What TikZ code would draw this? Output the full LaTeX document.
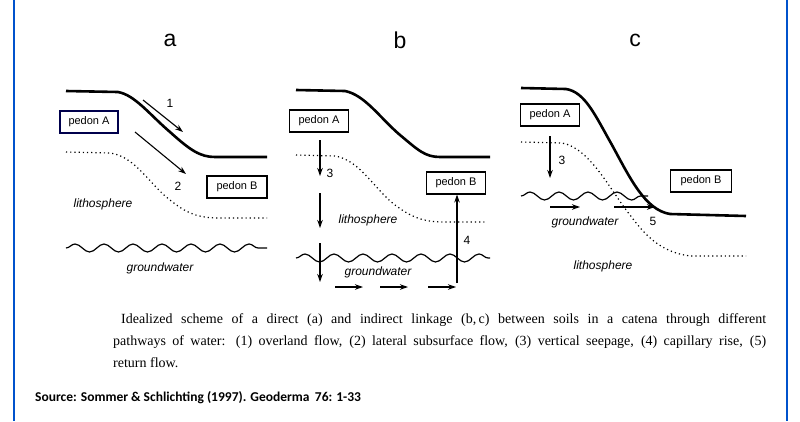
\documentclass[tikz,border=0pt]{standalone}
\usepackage{fontspec}
\setmainfont{Liberation Serif}
\setsansfont{Liberation Sans}
\newfontfamily\carl{Carlito}
\usetikzlibrary{decorations.pathmorphing,arrows.meta}
\begin{document}
\begin{tikzpicture}[x=1pt,y=-1pt,
  box/.style={draw,line width=1.1pt,inner sep=0pt,minimum height=22pt,font=\sffamily\fontsize{11}{11}\selectfont},
  lab/.style={font=\sffamily\fontsize{12}{12}\selectfont},
  ilab/.style={font=\sffamily\itshape\fontsize{12}{12}\selectfont},
  surf/.style={line width=2.6pt},
  dots/.style={line width=1.2pt,dash pattern=on 1.2pt off 3pt},
  wave/.style={line width=1.2pt,decorate,decoration={snake,segment length=29pt,amplitude=4pt}},
  arr/.style={line width=1.1pt,-{Stealth[length=8pt,width=5.5pt]}}]
\useasboundingbox (0,0) rectangle (800,421);
\fill[white] (0,0) rectangle (800,421);
\draw[line width=1.5pt,blue!60!cyan!80!black] (14,0) -- (14,421) (787,0) -- (787,421);
% titles
\node[font=\sffamily\fontsize{23}{23}\selectfont] (ta) at (170,40) {a};
\node[font=\sffamily\fontsize{23}{23}\selectfont] (tb) at (400,40) {b};
\node[font=\sffamily\fontsize{23}{23}\selectfont] (tc) at (635,40) {c};
% ---- panel a
\draw[surf] (66,91) -- (118,92) .. controls (135,95) and (150,115) .. (170,132) .. controls (190,150) and (200,157) .. (215,157) -- (267,157);
\draw[dots] (66,152) -- (110,153) .. controls (135,156) and (150,185) .. (170,200) .. controls (185,212) and (195,217) .. (215,218) -- (267,218);
\node[box,draw=blue!30!black,minimum width=58pt] (pAa) at (89,122) {pedon A};
\node[box,minimum width=60pt] (pBa) at (237,187) {pedon B};
\coordinate (a1s) at (143,100); \coordinate (a1e) at (183,132);
\draw[arr] (a1s) -- (a1e);
\node[lab] (l1) at (170,103) {1};
\coordinate (a2s) at (135,132); \coordinate (a2e) at (186,174);
\draw[arr] (a2s) -- (a2e);
\node[lab] (l2) at (178,186) {2};
\node[ilab] (lia) at (103,204) {lithosphere};
\draw[wave] (66,248) -- (267,248);
\node[ilab] (gwa) at (160,268) {groundwater};
% ---- panel b
\draw[surf] (296,90) -- (345,91) .. controls (365,95) and (380,118) .. (400,135) .. controls (418,150) and (425,157) .. (440,157) -- (490,157);
\draw[dots] (296,155) -- (335,156) .. controls (360,160) and (375,190) .. (395,205) .. controls (410,216) and (420,221) .. (440,222) -- (487,222);
\node[box,minimum width=59pt] (pAb) at (319,121) {pedon A};
\node[box,minimum width=59pt] (pBb) at (456,183) {pedon B};
\draw[arr] (320,140) -- (320,176);
\node[lab] (l3b) at (330,173) {3};
\draw[arr] (320,193) -- (320,228);
\node[ilab] (lib) at (368,220) {lithosphere};
\draw[wave] (296,258) -- (490,258);
\draw[arr] (320,243) -- (320,282);
\node[ilab] (gwb) at (378,272) {groundwater};
\draw[arr] (335,287) -- (363,287);
\draw[arr] (380,287) -- (408,287);
\draw[arr] (428,287) -- (456,287);
\draw[arr] (457,283) -- (pBb.south -| 457,204);
\node[lab] (l4) at (467,240) {4};
% ---- panel c
\draw[surf] (521,88) -- (566,89) .. controls (585,92) and (595,115) .. (612,145) .. controls (630,178) and (645,210) .. (670,214) -- (746,216);
\draw[dots] (521,142) -- (562,143) .. controls (590,148) and (610,190) .. (630,215) .. controls (645,235) and (660,252) .. (690,256) -- (746,256);
\node[box,minimum width=59pt] (pAc) at (550,115) {pedon A};
\node[box,minimum width=61pt] (pBc) at (701,181) {pedon B};
\draw[arr] (550,136) -- (550,178);
\node[lab] (l3c) at (562,160) {3};
\draw[wave] (521,196) -- (648,196);
\draw[arr] (550,207) -- (580,207);
\draw[arr] (614,207) -- (655,207);
\node[ilab] (gwc) at (585,222) {groundwater};
\node[lab] (l5) at (653,221) {5};
\node[ilab] (lic) at (603,266) {lithosphere};
% caption
\node[anchor=north west,inner sep=0pt,text width=653pt,align=justify,font=\fontsize{14}{22}\selectfont] (cap) at (113,313)
{\hspace*{8pt}Idealized scheme of a direct (a) and indirect linkage (b,\,c) between soils in a catena through different\linebreak pathways of water: (1) overland flow, (2) lateral subsurface flow, (3) vertical seepage, (4) capillary rise, (5)\linebreak return flow.};
\node[anchor=west,inner sep=0pt,font=\carl\bfseries\fontsize{13.5}{13.5}\selectfont] (src) at (35,398) {Source: Sommer \& Schlichting (1997). Geoderma\, 76: 1-33};
\end{tikzpicture}
\end{document}
